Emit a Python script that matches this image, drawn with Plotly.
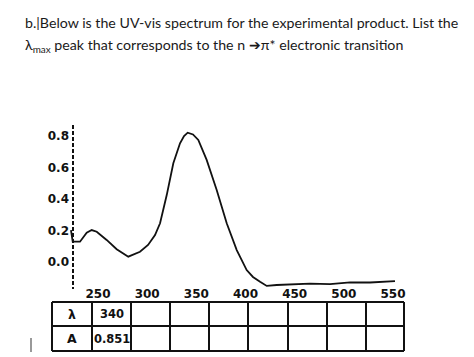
import plotly.graph_objects as go

# ---- data ----
wavelength_nm = [222.5, 224.3, 231.7, 238.5, 243.6, 248.7, 258.8, 269.0, 280.8, 292.7,
                 300.9, 308.0, 313.1, 319.9, 326.6, 333.4, 337.5, 341.2, 346.6, 352.0,
                 360.5, 370.7, 380.9, 391.1, 401.2, 407.6, 414.8, 421.6, 431.7, 445.3,
                 465.6, 486.0, 506.3, 526.6, 552.0]
absorbance = [0.203, 0.129, 0.129, 0.186, 0.203, 0.192, 0.140, 0.081, 0.034, 0.065,
              0.108, 0.171, 0.246, 0.425, 0.627, 0.754, 0.800, 0.821, 0.810, 0.775,
              0.648, 0.457, 0.246, 0.076, -0.051, -0.095, -0.125, -0.152, -0.146, -0.143,
              -0.137, -0.140, -0.129, -0.130, -0.121]

x_ticks = [250, 300, 350, 400, 450, 500, 550]
y_ticks = [0.0, 0.2, 0.4, 0.6, 0.8]
y_tick_labels = ["0.0", "0.2", "0.4", "0.6", "0.8"]

table_row_labels = ["λ", "A"]
table_first_values = ["340", "0.851"]

title_line1 = "b.|Below is the UV-vis spectrum for the experimental product. List the"
title_line2 = "λ<sub>max</sub> peak that corresponds to the n ➔π* electronic transition"

# ---- layout geometry (pixels of a 474x357 page) ----
W, H = 474, 357
def px(x):
    return x / W
def py(y):
    return 1 - y / H

# axis mapping: 250 nm at px 98, 550 nm at px 393 ; A=0 at py 262, 0.8 at py 136
nm_per_px = 300 / 295.0
a_per_px = 0.8 / 126.0
x_left_px, x_right_px = 70, 410
y_top_px, y_bot_px = 120, 289
x_range = [250 + (x_left_px - 98) * nm_per_px, 250 + (x_right_px - 98) * nm_per_px]
y_range = [(262 - y_bot_px) * a_per_px, (262 - y_top_px) * a_per_px]

ink = "#111111"

fig = go.Figure()
fig.add_trace(go.Scatter(
    x=wavelength_nm, y=absorbance, mode="lines",
    line=dict(color=ink, width=1.8),
    hoverinfo="skip", showlegend=False))

tickfont = dict(family="DejaVu Sans", size=12, color=ink, weight="bold")
fig.update_layout(
    width=W, height=H,
    margin=dict(l=0, r=0, t=0, b=0),
    paper_bgcolor="white", plot_bgcolor="white",
    showlegend=False,
    xaxis=dict(domain=[px(x_left_px), px(x_right_px)], range=x_range,
               tickvals=x_ticks, ticks="", showgrid=False, zeroline=False,
               showline=False, tickfont=tickfont, ticklabelstandoff=-4),
    yaxis=dict(domain=[py(y_bot_px), py(y_top_px)], range=y_range,
               tickvals=y_ticks, ticktext=y_tick_labels, ticks="",
               showgrid=False, zeroline=False, showline=False, tickfont=tickfont),
)

shapes = []
# dashed y axis
shapes.append(dict(type="line", xref="paper", yref="paper",
                   x0=px(73), x1=px(73), y0=py(125), y1=py(289),
                   line=dict(color=ink, width=2, dash="4px,2px")))
# table grid
col_edges = [52, 92, 131, 170, 209, 248, 288, 327, 366, 404]
row_edges = [302, 326, 351]
for ry in row_edges:
    shapes.append(dict(type="line", xref="paper", yref="paper",
                       x0=px(col_edges[0]), x1=px(col_edges[-1]), y0=py(ry), y1=py(ry),
                       line=dict(color=ink, width=2)))
for cx in col_edges:
    shapes.append(dict(type="line", xref="paper", yref="paper",
                       x0=px(cx), x1=px(cx), y0=py(row_edges[0]), y1=py(row_edges[-1]),
                       line=dict(color=ink, width=2)))
# stray mark bottom-left
shapes.append(dict(type="line", xref="paper", yref="paper",
                   x0=px(31), x1=px(31), y0=py(338), y1=py(352),
                   line=dict(color="#555555", width=1.2)))
fig.update_layout(shapes=shapes)

annotations = []
title_font = dict(family="Lato", size=14.2, color="#1a1a1a")
annotations.append(dict(text=title_line1, xref="paper", yref="paper",
                        x=px(23), y=py(22), xanchor="left", yanchor="middle",
                        showarrow=False, font=title_font))
annotations.append(dict(text=title_line2, xref="paper", yref="paper",
                        x=px(23), y=py(46), xanchor="left", yanchor="middle",
                        showarrow=False, font=title_font))
cell_font = dict(family="DejaVu Sans", size=11.5, color=ink, weight="bold")
row_centers = [(row_edges[0] + row_edges[1]) / 2, (row_edges[1] + row_edges[2]) / 2]
for i, (lab, val) in enumerate(zip(table_row_labels, table_first_values)):
    annotations.append(dict(text=lab, xref="paper", yref="paper",
                            x=px((col_edges[0] + col_edges[1]) / 2), y=py(row_centers[i]),
                            xanchor="center", yanchor="middle", showarrow=False,
                            font=dict(cell_font, size=12.5)))
    annotations.append(dict(text=val, xref="paper", yref="paper",
                            x=px((col_edges[1] + col_edges[2]) / 2), y=py(row_centers[i]),
                            xanchor="center", yanchor="middle", showarrow=False,
                            font=cell_font))
fig.update_layout(annotations=annotations)

fig.write_html("out.html", config={"displayModeBar": False},
               post_script="document.body.style.margin='0';")
